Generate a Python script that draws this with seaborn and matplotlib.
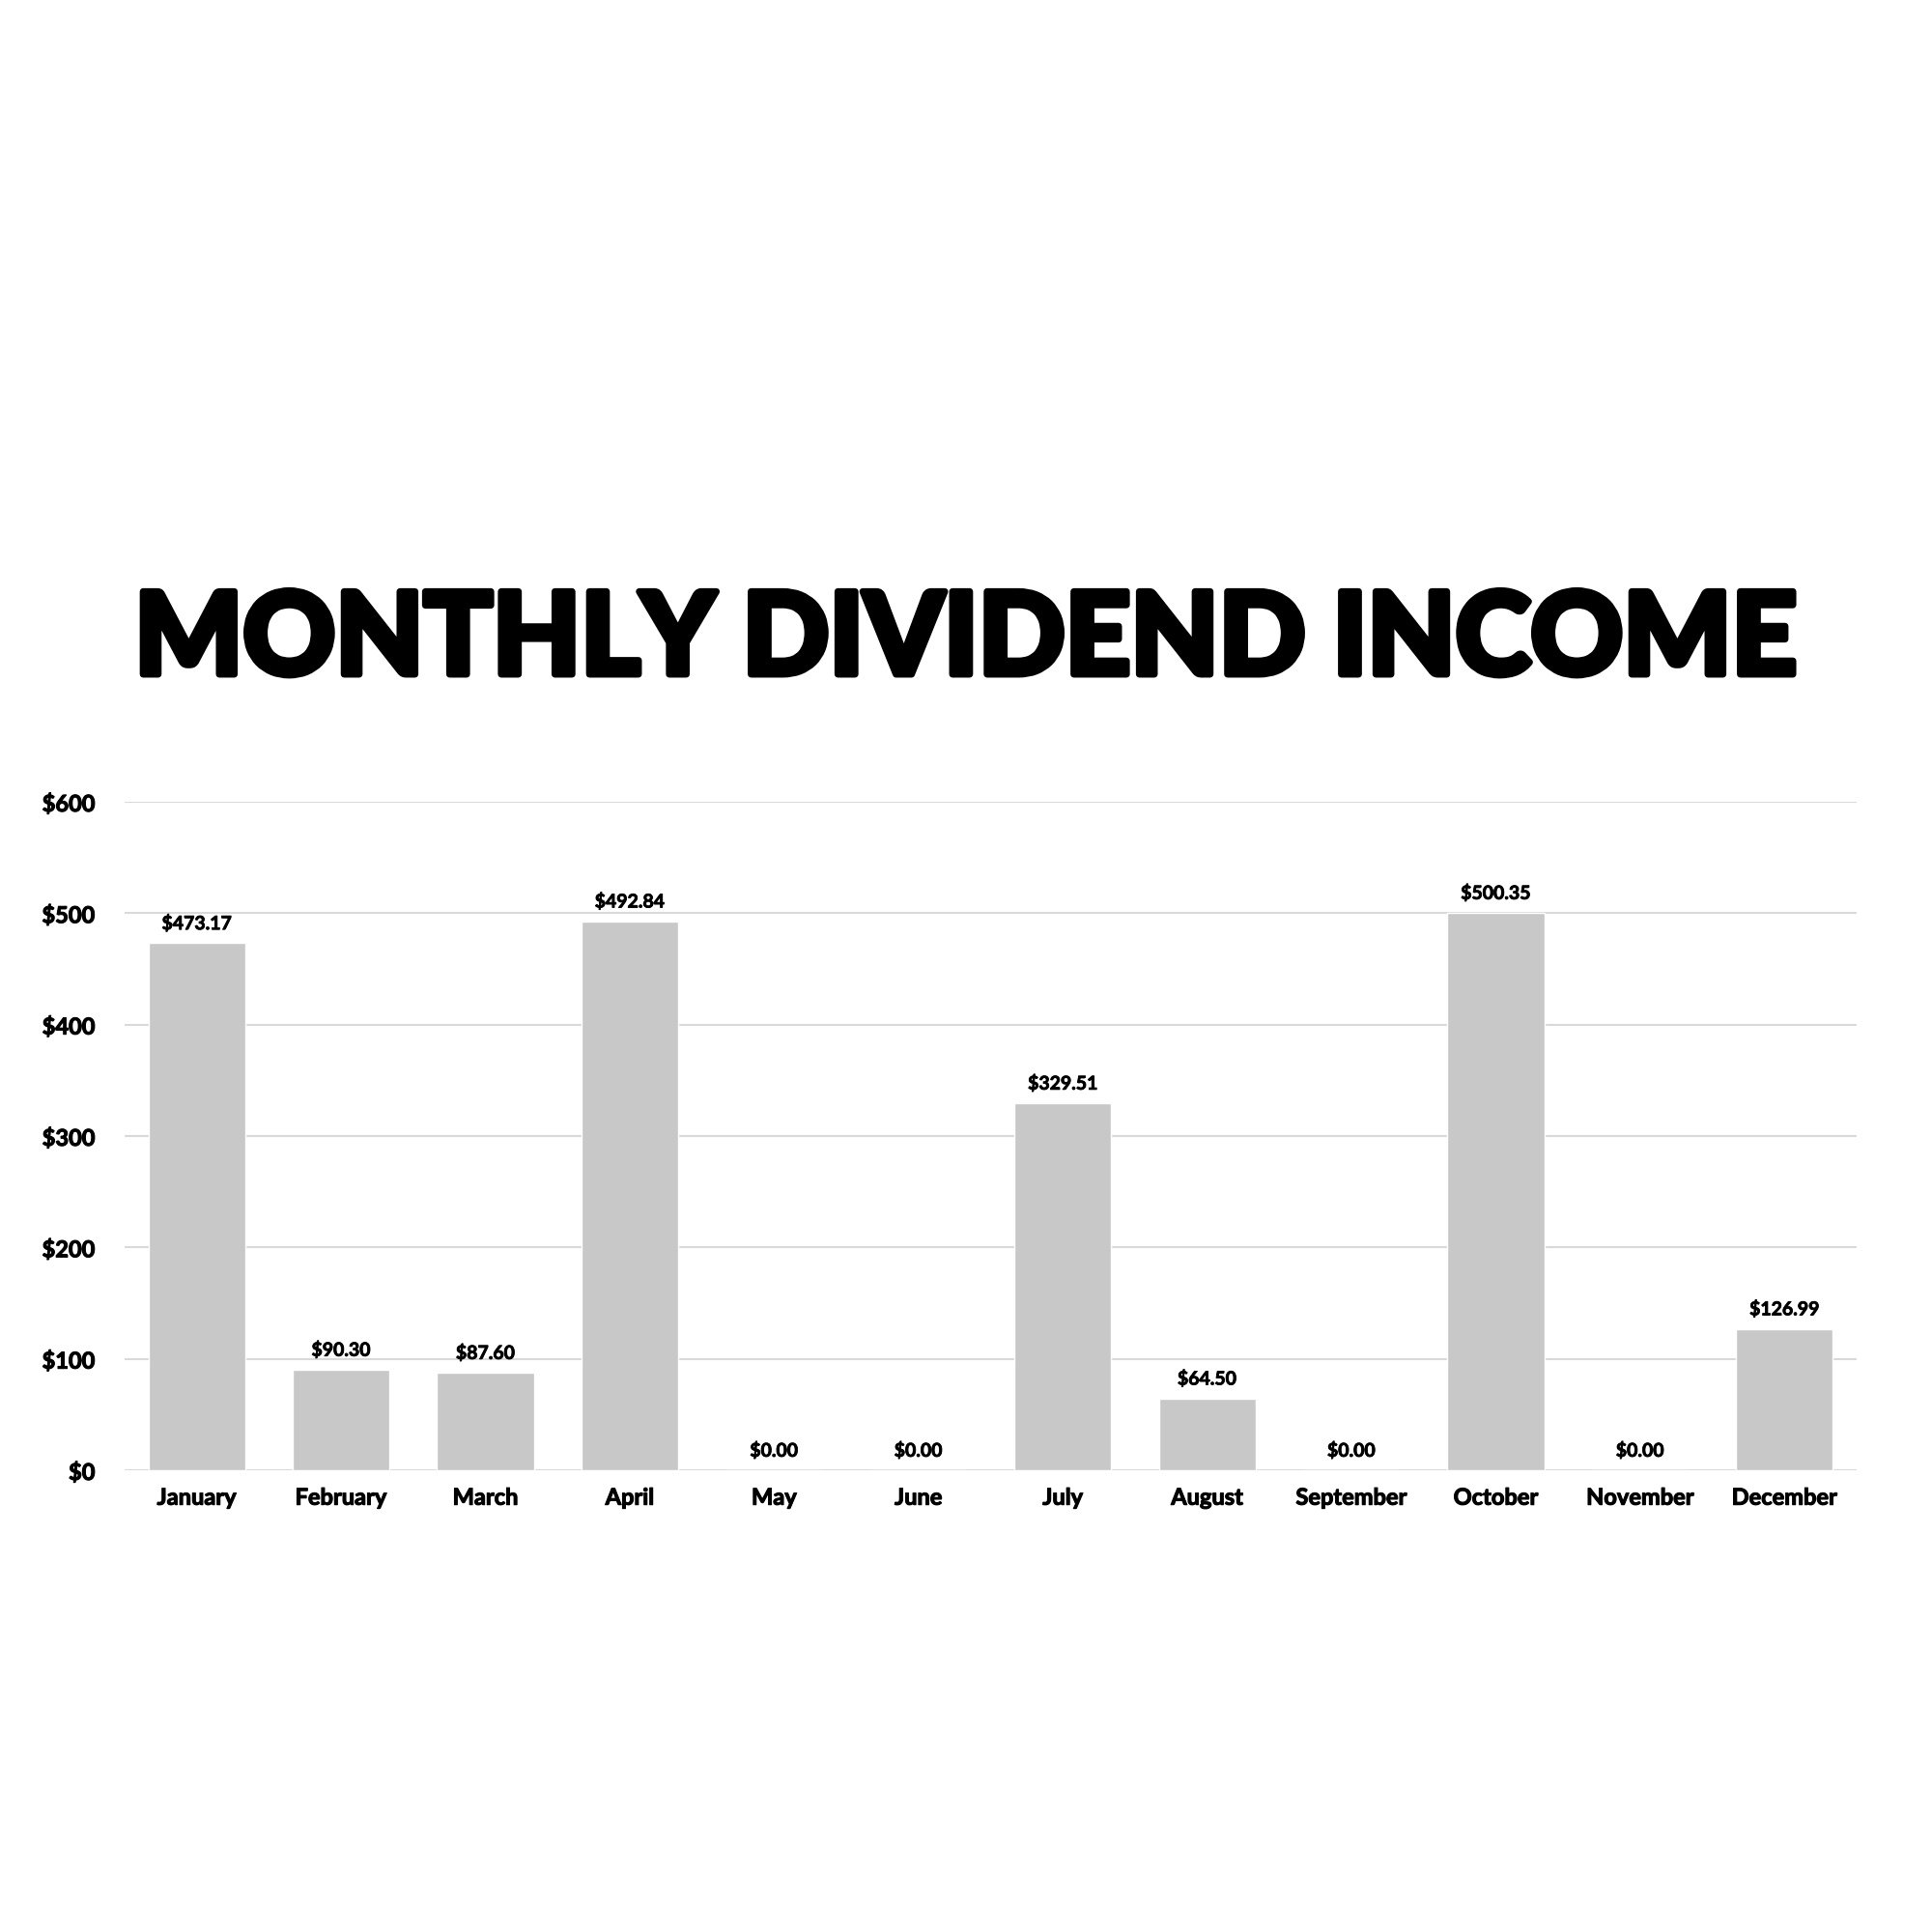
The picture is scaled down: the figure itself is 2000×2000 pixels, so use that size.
import pandas as pd
import matplotlib
matplotlib.use("Agg")
import matplotlib.pyplot as plt
import matplotlib.patheffects as pe
import seaborn as sns

months = ["January", "February", "March", "April", "May", "June",
          "July", "August", "September", "October", "November", "December"]
income = [473.17, 90.30, 87.60, 492.84, 0.00, 0.00,
          329.51, 64.50, 0.00, 500.35, 0.00, 126.99]
y_ticks = [0, 100, 200, 300, 400, 500, 600]

sns.set_style("white")
plt.rcParams['font.family'] = ['Lato', 'DejaVu Sans']
plt.rcParams['text.color'] = 'black'
plt.rcParams['xtick.color'] = 'black'
plt.rcParams['ytick.color'] = 'black'

df = pd.DataFrame({"Month": months, "Income": income})

fig = plt.figure(figsize=(20, 20), dpi=100)
ax = fig.add_axes([0.0645, 0.239, 0.8965, 0.346])

sns.barplot(data=df, x="Month", y="Income", color="#c8c8c8", saturation=1,
            width=0.67, ax=ax, zorder=2)

# slightly heavier text, like the bold Calibri in the original
heavy = [pe.withStroke(linewidth=0.8, foreground="black")]

ax.set_xlim(-0.5, len(months) - 0.5)
ax.set_ylim(0, 600)
ax.set_yticks(y_ticks)
ax.set_yticklabels([f"${v}" for v in y_ticks], fontsize=17, fontweight="bold")
ax.set_xticklabels(months, fontsize=17, fontweight="bold")
for lbl in ax.get_xticklabels() + ax.get_yticklabels():
    lbl.set_path_effects(heavy)
ax.tick_params(axis="y", length=0, pad=22)
ax.tick_params(axis="x", length=0, pad=12)
ax.set_xlabel("")
ax.set_ylabel("")
ax.yaxis.grid(True, color="#d9d9d9", linewidth=1.5, zorder=0)
ax.set_axisbelow(True)
sns.despine(ax=ax, left=True, right=True, top=True, bottom=True)

for container in ax.containers:
    texts = ax.bar_label(container, labels=[f"${v:.2f}" for v in income],
                         padding=8, fontsize=14, fontweight="bold", color="black")
    for t in texts:
        t.set_path_effects([pe.withStroke(linewidth=0.6, foreground="black")])

fig.text(0.5, 0.668, "MONTHLY DIVIDEND INCOME", ha="center", va="center",
         fontsize=85, fontweight="black", color="black",
         family=["Lato", "DejaVu Sans"],
         path_effects=[pe.withStroke(linewidth=5, foreground="black")])

fig.savefig("out.png", dpi=100, facecolor="white")
